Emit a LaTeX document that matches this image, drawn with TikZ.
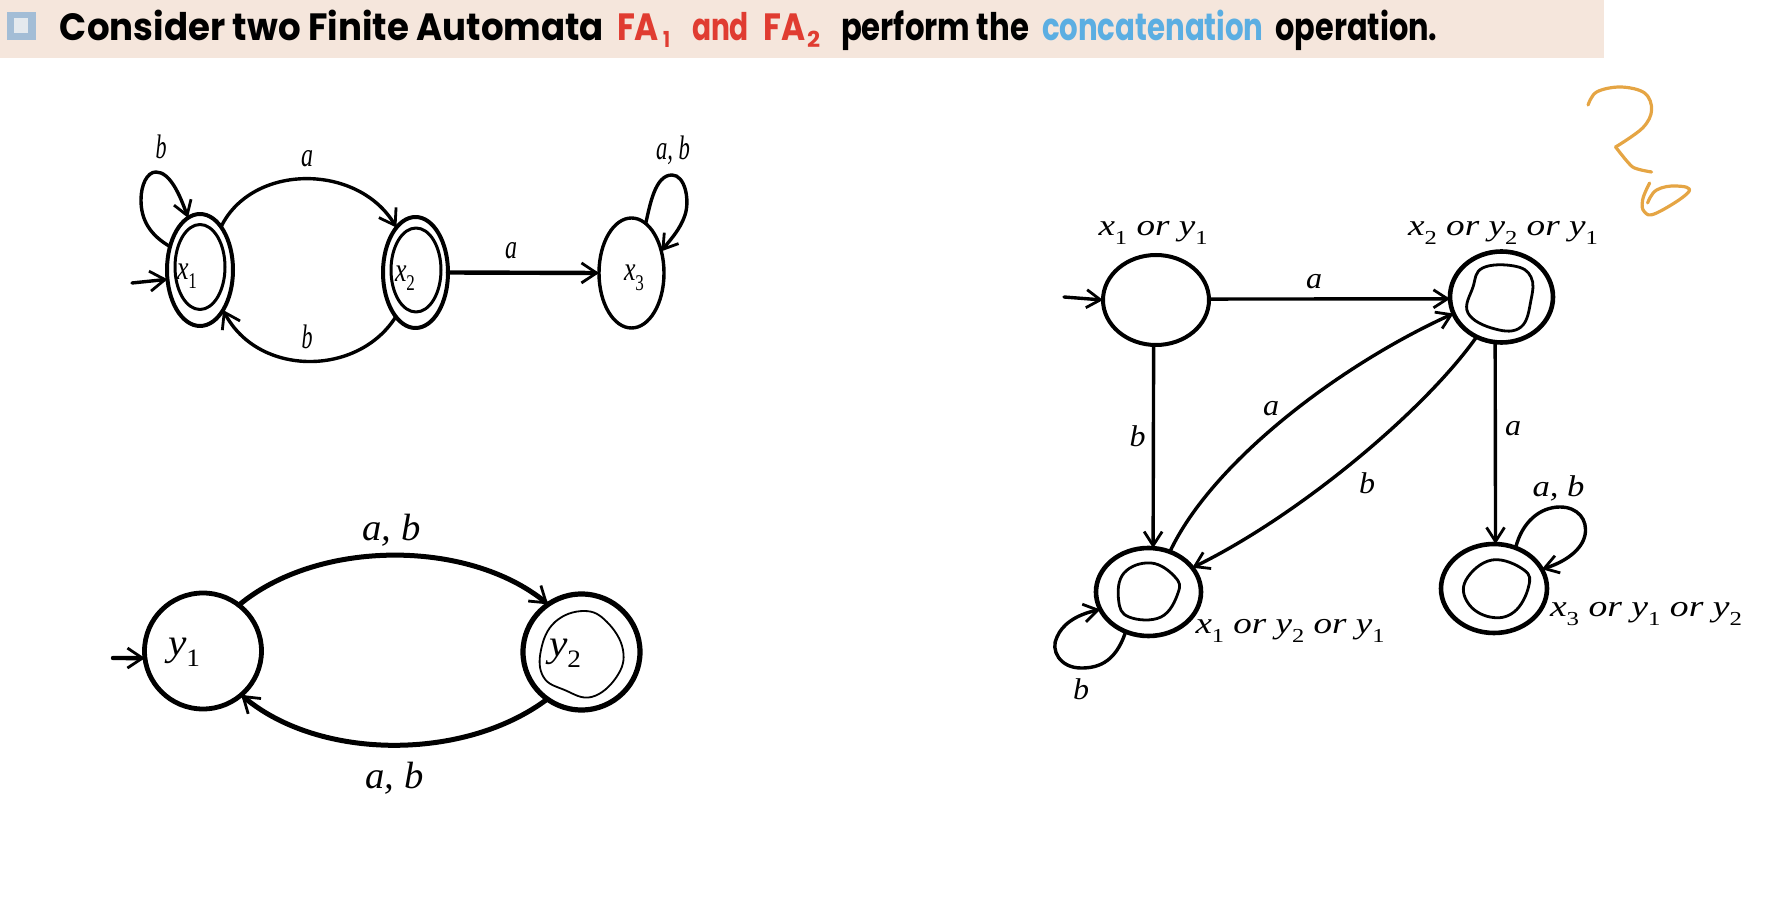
\documentclass[tikz,border=0pt]{standalone}
\usepackage{fontspec}
\usepackage{graphicx}
\usetikzlibrary{arrows.meta,shapes.geometric}
\newfontfamily\titlef{Poppins}
\newfontfamily\lf{Liberation Serif}
\newlength\pxu \setlength\pxu{0.5pt}
\newcommand\fw[2]{\resizebox{#1\pxu}{\height}{#2}}
\newcommand\ttl[2]{{\titlef\fontsize{#1}{#1}\selectfont\bfseries #2}}
\newcommand\lb[3]{\fw{#1}{\fontsize{#2}{#2}\selectfont\lf\itshape #3}}
\newcommand\sv[2]{#1\raisebox{-0.28em}{\upshape\fontsize{0.66em}{0.66em}\selectfont #2}}
\definecolor{band}{HTML}{F5E6DC}
\definecolor{iconblue}{HTML}{A3BDD6}
\definecolor{iconin}{HTML}{E4E9EE}
\definecolor{tred}{HTML}{E03C31}
\definecolor{tblue}{HTML}{5BAEE2}
\definecolor{hand}{HTML}{E5A544}
\tikzset{
  st/.style 2 args={draw=black,ellipse,inner sep=0pt,outer sep=0pt,minimum width=#1*0.5pt,minimum height=#2*0.5pt},
  edgeA/.style={draw=black,line width=1.7pt,-{Straight Barb[length=7.5pt,width=10pt,line width=1.4pt]}},
  edgeB/.style={draw=black,line width=1.7pt,-{Straight Barb[length=7pt,width=9pt,line width=1.4pt]}},
  lab/.style={inner sep=0pt,outer sep=0pt,anchor=center},
  tt/.style={inner sep=0pt,outer sep=0pt,anchor=base west},
  wob/.style={draw=black,line width=1.4pt,smooth cycle,tension=0.7},
}
\begin{document}
\begin{tikzpicture}[x=0.5pt,y=-0.5pt,line cap=round,line join=round]
\useasboundingbox (0,0) rectangle (1785,914);
% header
\fill[band] (0,0) rectangle (1604,58);
\fill[iconblue] (7,12) rectangle (36,40);
\fill[iconin] (14,18) rectangle (28,33);
\node[tt] (t1) at (60,41) {\fw{544}{\ttl{19}{Consider two Finite Automata}}};
\node[tt,text=tred] (t2) at (617,41) {\fw{42}{\ttl{19}{FA}}};
\node[tt,text=tred] (t3) at (663,48) {\fw{7}{\ttl{11}{1}}};
\node[tt,text=tred] (t4) at (692,41) {\fw{57}{\ttl{19}{and}}};
\node[tt,text=tred] (t5) at (763.5,41) {\fw{42}{\ttl{19}{FA}}};
\node[tt,text=tred] (t6) at (807,48) {\fw{13}{\ttl{11}{2}}};
\node[tt] (t7) at (841,41) {\fw{188}{\ttl{19}{perform the}}};
\node[tt,text=tblue] (t8) at (1042,41) {\fw{221.6}{\ttl{19}{concatenation}}};
\node[tt] (t9) at (1275.5,41) {\fw{162}{\ttl{19}{operation.}}};

% FA1
\node[st={66}{112},line width=2pt] (x1) at (200,270) {};
\node[st={50}{85},line width=1.5pt] (x1i) at (200,267) {};
\node[st={65}{111},line width=2pt] (x2) at (415.5,272.5) {};
\node[st={50}{84},line width=1.5pt] (x2i) at (416,270) {};
\node[st={65}{110},line width=1.7pt] (x3) at (631.5,273) {};
\coordinate (i1) at (132,283);
\draw[edgeA] (i1) -- (x1.196);
\draw[edgeA] (x1.64) .. controls (252,163) and (358,163) .. (x2.113);
\draw[edgeA] (x2.246) .. controls (358,377) and (258,377) .. (x1.-60);
\draw[edgeA,line width=2.2pt] (x2.east) -- (x3.west);
\draw[edgeB] (x1.142) .. controls (150,235) and (141,220) .. (141,200) .. controls (141,185) and (147,172) .. (156,172) .. controls (170,172) and (180,195) .. (x1.103);
\draw[edgeB] (x3.74) .. controls (650,205) and (655,175) .. (672,175) .. controls (685,175) and (690,200) .. (685,215) .. controls (680,230) and (670,240) .. (x3.36);
\node[lab] (lb1) at (161,147) {\lb{11}{17}{b}};
\node[lab] (la1) at (307,159) {\lb{12}{17}{a}};
\node[lab] (lab1) at (673,150) {\lb{34}{17}{a, b}};
\node[lab] (la2) at (511,251) {\lb{12}{17}{a}};
\node[lab] (lb2) at (307,337) {\lb{11}{17}{b}};
\node[lab] (lx1) at (187,276) {\lb{20}{17}{\sv{x}{1}}};
\node[lab] (lx2) at (405,278) {\lb{20}{17}{\sv{x}{2}}};
\node[lab] (lx3) at (634,278) {\lb{20}{17}{\sv{x}{3}}};

% FA2
\node[st={117}{116},line width=2.4pt] (y1) at (203,651) {};
\node[st={117}{116},line width=2.6pt] (y2) at (581.5,652) {};
\draw[wob,line width=0.9pt] plot coordinates {(584,611) (607,622) (623,650) (616.5,677) (591.5,697) (564.6,690) (543.5,677) (541,650) (555,622)};
\coordinate (i2) at (113,658);
\draw[edgeA,line width=2.2pt] (i2) -- (y1.187);
\draw[edgeA,line width=2.5pt] (y1.52) .. controls (318,539) and (468,539) .. (y2.125);
\draw[edgeA,line width=2.5pt] (y2.234) .. controls (465,761) and (320,761) .. (y1.-49);
\node[lab] (l21) at (391.5,530) {\lb{58}{19}{a, b}};
\node[lab] (l22) at (394.6,778) {\lb{58}{19}{a, b}};
\node[lab] (ly1) at (184,652) {\lb{32}{19}{\sv{y}{1}}};
\node[lab] (ly2) at (565,653) {\lb{32}{19}{\sv{y}{2}}};

% right automaton
\node[st={106}{90},line width=2pt] (S1) at (1156,300) {};
\node[st={103}{91},line width=2.3pt] (S2) at (1501.5,297) {};
\node[st={105}{88},line width=2.3pt] (S3) at (1148.5,592) {};
\node[st={106}{89},line width=2.3pt] (S4) at (1494,588.5) {};
\draw[wob] plot coordinates {(1482.6,268) (1514,266) (1531,277) (1531,300) (1521,327) (1495,329) (1468,313) (1473,287)};
\draw[wob] plot coordinates {(1151,563) (1175,577) (1178,593) (1161,617) (1129,617) (1118.6,600) (1124,573)};
\draw[wob] plot coordinates {(1492,560) (1524,570) (1528.5,587) (1514,612) (1490,617) (1468,603) (1466,580)};
\coordinate (i3) at (1064,297);
\draw[edgeB] (i3) -- (S1.180);
\draw[edgeB] (S1.1) -- (S2.182);
\draw[edgeB] (S1.267) -- (S3.84);
\draw[edgeB] (S2.262.5) -- (S4.88);
\draw[edgeB] (S3.62) .. controls (1212,462) and (1340,365) .. (S2.199);
\draw[edgeB] (S2.238) .. controls (1425,410) and (1300,515) .. (S3.29);
\draw[edgeB] (S3.240) .. controls (1115,665) and (1095,668) .. (1081,668) .. controls (1060,668) and (1050,650) .. (1057,637) .. controls (1062,625) and (1075,615) .. (S3.200);
\draw[edgeB] (S4.62) .. controls (1522,522) and (1540,507) .. (1560,507) .. controls (1578,507) and (1588,520) .. (1585,535) .. controls (1582,550) and (1565,562) .. (S4.22);
\node[lab] (r1) at (1153,233) {\lb{109}{15}{\sv{x}{1} or \sv{y}{1}}};
\node[lab] (r2) at (1503,233) {\lb{190}{15}{\sv{x}{2} or \sv{y}{2} or \sv{y}{1}}};
\node[lab] (r3) at (1290,631) {\lb{189}{15}{\sv{x}{1} or \sv{y}{2} or \sv{y}{1}}};
\node[lab] (r4) at (1646,614) {\lb{192}{15}{\sv{x}{3} or \sv{y}{1} or \sv{y}{2}}};
\node[lab] (ra1) at (1314,282) {\lb{16}{15}{a}};
\node[lab] (rb1) at (1137.5,436) {\lb{16}{15}{b}};
\node[lab] (ra2) at (1271,409) {\lb{16}{15}{a}};
\node[lab] (rb2) at (1367,483) {\lb{16}{15}{b}};
\node[lab] (ra3) at (1513,429) {\lb{16}{15}{a}};
\node[lab] (rab) at (1558.5,488) {\lb{52}{15}{a, b}};
\node[lab] (rb3) at (1081,689) {\lb{16}{15}{b}};

% handwritten mark
\begin{scope}[xshift=-1.2pt]
\draw[hand,line width=1.6pt] plot[smooth,tension=0.6] coordinates {(1590.5,105) (1599,92) (1623,87) (1647,93) (1654,110) (1645,128) (1618,147)};
\draw[hand,line width=1.6pt] plot[smooth,tension=0.4] coordinates {(1618,147) (1635,167) (1654,172)};
\draw[hand,line width=1.6pt] plot[smooth,tension=0.7] coordinates {(1652,183) (1645,200) (1647,212) (1659,213) (1691,192) (1679,186) (1659,190) (1650,203)};
\end{scope}
\end{tikzpicture}
\end{document}
